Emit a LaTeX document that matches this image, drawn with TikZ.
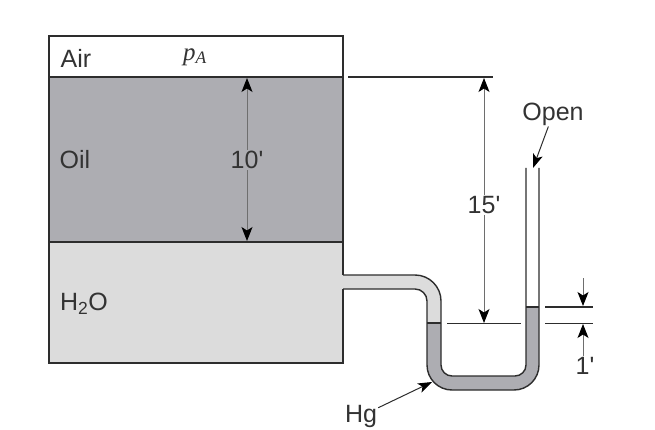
\documentclass[tikz,border=0pt]{standalone}
\usepackage{fontspec}
\setmainfont{Liberation Sans}
\newfontfamily\serifit{Liberation Serif}
\usetikzlibrary{arrows.meta}
\definecolor{oilgray}{RGB}{173,173,178}
\definecolor{watergray}{RGB}{220,220,220}
\definecolor{inkgray}{RGB}{45,45,45}
\definecolor{dimgray}{RGB}{110,110,110}
\begin{document}
\begin{tikzpicture}
            [
            x=1pt,y=-1pt,
            wall/.style={draw=inkgray,line width=1.4pt},
            level/.style={draw=inkgray,line width=1.2pt},
            dimline/.style={draw=dimgray,line width=1pt,-{Stealth[length=14pt,width=11pt,inset=3.5pt,color=black]}},
            pointer/.style={draw=inkgray,line width=1pt,-{Stealth[length=14pt,width=10pt,inset=3.5pt,color=black]}},
            lbl/.style={inner sep=1pt,text=black!80,font=\fontsize{25}{29}\selectfont}
            ]
        \useasboundingbox[fill=white] (0,0) rectangle (655,430);
        % tank
        \fill[white] (49,36) rectangle (343,77);
        \fill[oilgray] (49,77) rectangle (343,242);
        \fill[watergray] (49,242) rectangle (343,363);
        % pipe and manometer
        \fill[watergray] (342,275) [rounded corners=26pt] -- (441,275) [sharp corners] -- (441,323) -- (427,323) [rounded corners=12pt] -- (427,289) [sharp corners] -- (342,289) -- cycle;
        \fill[oilgray] (427,323) [rounded corners=25pt] -- (427,390) -- (539,390) [sharp corners] -- (539,307) -- (526,307) [rounded corners=11pt] -- (526,376) -- (441,376) [sharp corners] -- (441,323) -- cycle;
        \draw[wall] (343,275) -- (343,36) -- (49,36) -- (49,363) -- (343,363) -- (343,289);
        \draw[wall] (49,77) -- (343,77);
        \draw[wall] (49,242) -- (343,242);
        \draw[wall] (343,275) [rounded corners=26pt] -- (441,275) [rounded corners=11pt] -- (441,376) -- (526,376) -- (526,168);
        \draw[wall] (343,289) [rounded corners=12pt] -- (427,289) [rounded corners=25pt] -- (427,390) -- (539,390) -- (539,168);
        \draw[wall] (427,323) -- (441,323);
        \draw[wall] (526,307) -- (539,307);
        % labels
        \node[lbl] (air) at (76,58) {Air};
        \node[lbl] (pa) at (195,57) {\serifit\itshape p\textsubscript{A}};
        \node[lbl] (oil) at (75,160) {Oil};
        \node[lbl] (water) at (84,304) {H\textsubscript{2}O};
        \node[lbl] (ten) at (247,160) {10\textquotesingle};
        \node[lbl] (fifteen) at (484,205) {15\textquotesingle};
        \node[lbl] (open) at (553,114) {Open};
        \node[lbl] (one) at (585,366) {1\textquotesingle};
        \node[lbl] (hg) at (361,416) {Hg};
        % dimension ends
        \coordinate (tentop) at (247,78);
        \coordinate (tenbot) at (247,241);
        \coordinate (fiftop) at (484,78);
        \coordinate (fifbot) at (484,323);
        \coordinate (tubetop) at (533,168);
        \coordinate (hgtip) at (432,382);
        \coordinate (onetop) at (583,278);
        \coordinate (oneup) at (583,306);
        \coordinate (onelow) at (583,324);
        \coordinate (surfl) at (348,77);
        \coordinate (surfr) at (493,77);
        \coordinate (hgl) at (447,323.5);
        \coordinate (hgr) at (521,323.5);
        \foreach \ya/\nm in {307/a,323.5/b}
            \draw[level] (545,\ya) coordinate (lev\nm l) -- (593,\ya) coordinate (lev\nm r);
        \draw[level] (surfl) -- (surfr);
        \draw[level] (hgl) -- (hgr);
        \draw[dimline] (ten) -- (tentop);
        \draw[dimline] (ten) -- (tenbot);
        \draw[dimline] (fifteen) -- (fiftop);
        \draw[dimline] (fifteen) -- (fifbot);
        \draw[dimline] (onetop) -- (oneup);
        \draw[dimline] (one.north -| onelow) -- (onelow);
        \draw[pointer] (open) -- (tubetop);
        \draw[pointer] (hg) -- (hgtip);
        \end{tikzpicture}
\end{document}
